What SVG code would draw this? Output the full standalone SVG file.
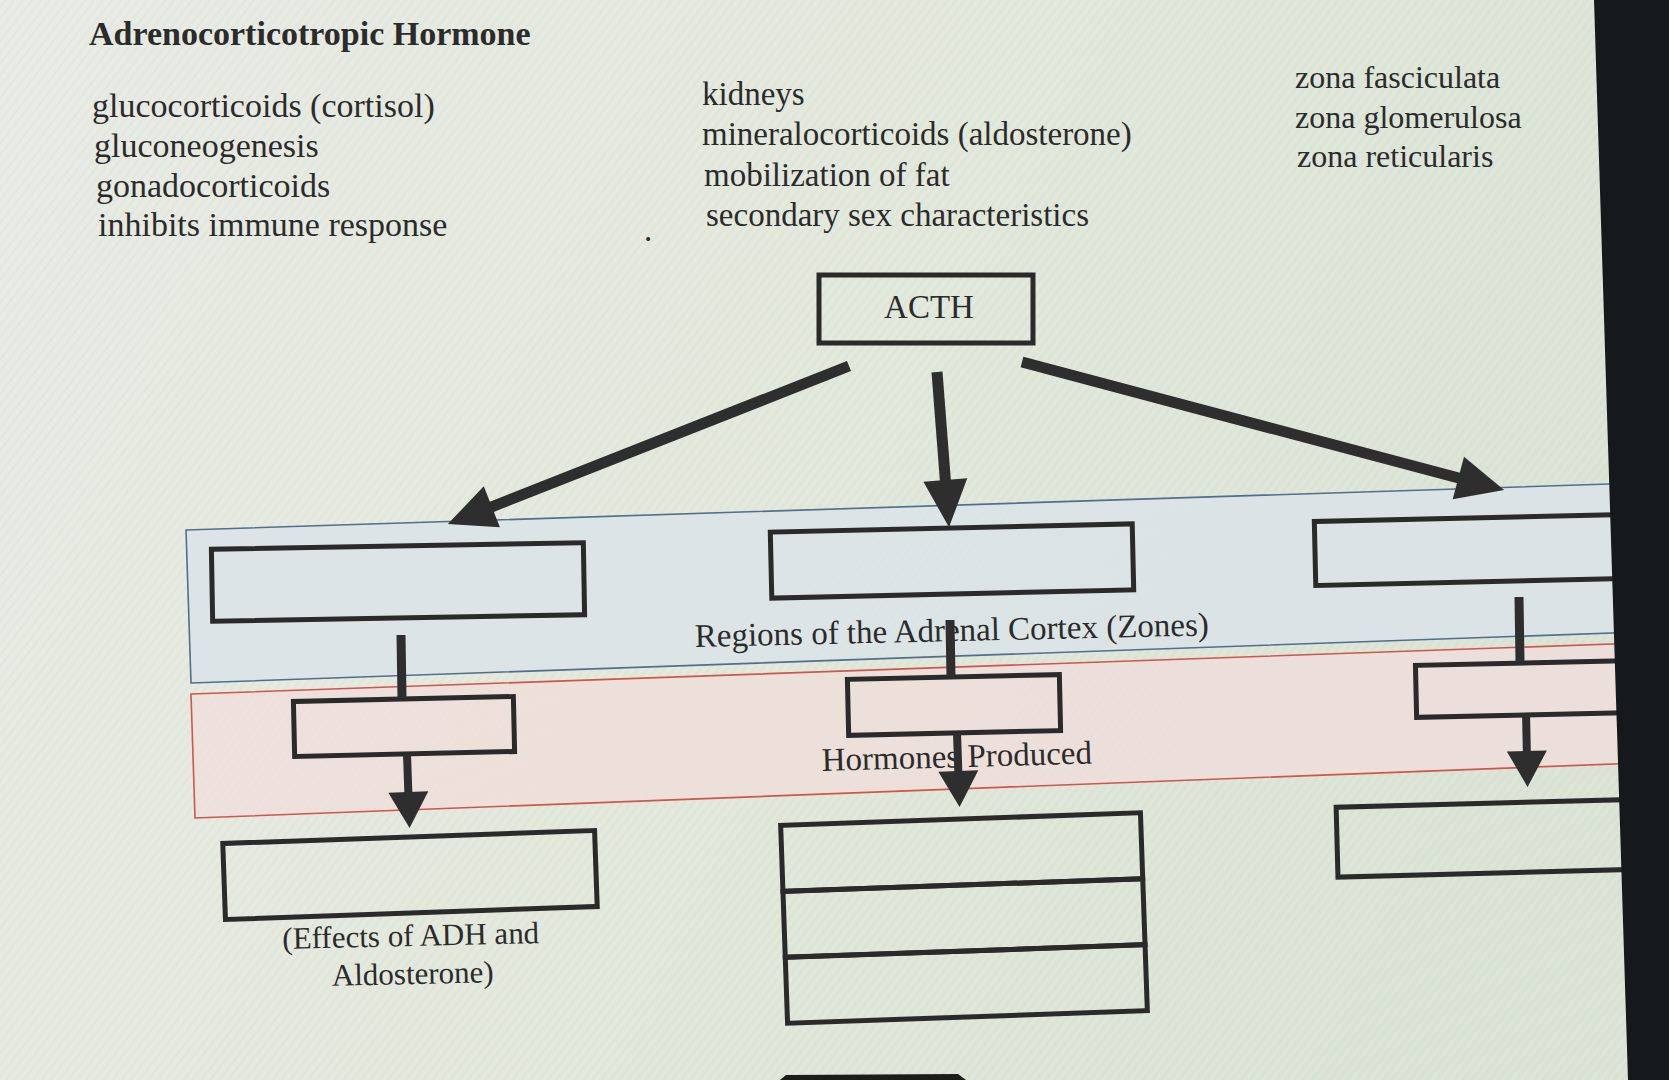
<svg xmlns="http://www.w3.org/2000/svg" width="1669" height="1080" viewBox="0 0 1669 1080">
<defs>
<linearGradient id="bg" x1="0" y1="0" x2="1" y2="0.3">
<stop offset="0" stop-color="#e9ece7"/>
<stop offset="0.5" stop-color="#e2e9dc"/>
<stop offset="1" stop-color="#d8e3d4"/>
</linearGradient>
<pattern id="moire" width="7" height="7" patternUnits="userSpaceOnUse" patternTransform="rotate(-52)">
<rect width="7" height="2.5" fill="#f1e4e4"/>
<rect y="3.5" width="7" height="2" fill="#cfe2cd"/>
</pattern>
<marker id="headL" markerUnits="strokeWidth" markerWidth="4.3" markerHeight="4" refX="1" refY="2" orient="auto" overflow="visible">
<path d="M0,0 L4.3,2 L0,4 z" fill="#2e2e2e"/>
</marker>
<marker id="headS" markerUnits="strokeWidth" markerWidth="4.5" markerHeight="5" refX="1" refY="2.5" orient="auto" overflow="visible">
<path d="M0,0 L4.5,2.5 L0,5 z" fill="#2e2e2e"/>
</marker>
</defs>
<style>
text { font-family: "Liberation Serif", "Times New Roman", serif; fill: #2b2b2b; }
.title { font-size: 34px; font-weight: bold; }
.item { font-size: 33px; }
.itemL { font-size: 34px; }
.zone { font-size: 32px; }
.lbl { font-size: 33px; }
.small { font-size: 31px; }
.box { fill: none; stroke: #2a2a2a; stroke-width: 5; }
.band-blue { fill: #dae3e7; fill-opacity: 0.85; stroke: #4f6f8c; stroke-width: 1.6; }
.band-red { fill: #efdeda; fill-opacity: 0.85; stroke: #d0554c; stroke-width: 1.6; }
.big { stroke: #2e2e2e; stroke-width: 11; fill: none; marker-end: url(#headL); }
.link { stroke: #2e2e2e; stroke-width: 9; fill: none; }
.arr { stroke: #2e2e2e; stroke-width: 8; fill: none; marker-end: url(#headS); }
</style>

<rect width="1669" height="1080" fill="url(#bg)"/>
<rect width="1669" height="1080" fill="url(#moire)" opacity="0.35"/>

<g id="title">
<text class="title" x="89" y="45">Adrenocorticotropic Hormone</text>
</g>

<g id="list-left">
<text class="itemL" x="92" y="117">glucocorticoids (cortisol)</text>
<text class="itemL" x="94" y="157">gluconeogenesis</text>
<text class="itemL" x="96" y="197">gonadocorticoids</text>
<text class="itemL" x="98" y="236">inhibits immune response</text>
</g>

<g id="dot"><text class="item" x="644" y="241">.</text></g>

<g id="list-middle">
<text class="item" x="702" y="105">kidneys</text>
<text class="item" x="702" y="145">mineralocorticoids (aldosterone)</text>
<text class="item" x="704" y="186">mobilization of fat</text>
<text class="item" x="706" y="226">secondary sex characteristics</text>
</g>

<g id="list-right">
<text class="zone" x="1295" y="88">zona fasciculata</text>
<text class="zone" x="1295" y="128">zona glomerulosa</text>
<text class="zone" x="1297" y="167">zona reticularis</text>
</g>

<g id="band-regions">
<polygon class="band-blue" points="186,530 1640,483 1640,632 191,683"/>
</g>
<g id="band-hormones">
<polygon class="band-red" points="191,694 1640,643 1640,763 195,818"/>
</g>

<g id="acth">
<rect class="box" x="819" y="275" width="214" height="68"/>
<text class="lbl" x="929" y="318" text-anchor="middle" font-size="32">ACTH</text>
</g>

<g id="zone-left"><rect class="box" x="212" y="546" width="372" height="72" transform="rotate(-1 398 582)"/></g>
<g id="zone-middle"><rect class="box" x="771" y="528" width="362" height="66" transform="rotate(-1.3 952 561)"/></g>
<g id="zone-right"><rect class="box" x="1315" y="517" width="400" height="64" transform="rotate(-1.3 1515 549)"/></g>

<g id="regions-label">
<text class="lbl" x="695" y="647" transform="rotate(-1.3 695 647)">Regions of the Adrenal Cortex (Zones)</text>
</g>

<g id="hormone-left"><rect class="box" x="294" y="699" width="220" height="55" transform="rotate(-1.3 404 726)"/></g>
<g id="hormone-middle"><rect class="box" x="848" y="677" width="212" height="56" transform="rotate(-1.3 954 705)"/></g>
<g id="hormone-right"><rect class="box" x="1416" y="662" width="300" height="52" transform="rotate(-1.3 1566 688)"/></g>

<g id="hormones-label">
<text class="lbl" x="822" y="771" transform="rotate(-1.6 822 771)">Hormones Produced</text>
</g>

<g id="effect-left">
<rect class="box" x="224" y="837" width="372" height="76" transform="rotate(-2 410 875)"/>
<text class="small" x="411" y="946" text-anchor="middle" transform="rotate(-1.3 411 946)">(Effects of ADH and</text>
<text class="small" x="413" y="984" text-anchor="middle" transform="rotate(-1.3 413 984)">Aldosterone)</text>
</g>
<g id="effect-middle" transform="rotate(-2 964 918)">
<rect class="box" x="784" y="819" width="360" height="66"/>
<rect class="box" x="784" y="885" width="360" height="66"/>
<rect class="box" x="784" y="951" width="360" height="66"/>
</g>
<g id="effect-right"><rect class="box" x="1337" y="803" width="320" height="70" transform="rotate(-1.5 1497 838)"/></g>

<g id="connectors">
<line class="big" x1="849" y1="366" x2="481.6" y2="510.8"/>
<line class="big" x1="937" y1="372" x2="946.2" y2="491"/>
<line class="big" x1="1022" y1="362" x2="1469" y2="480.8"/>
<line class="link" x1="401" y1="635" x2="402" y2="698"/>
<line class="link" x1="950" y1="620" x2="951" y2="678"/>
<line class="link" x1="1519" y1="597" x2="1520" y2="662"/>
<line class="arr" x1="407" y1="754" x2="408.6" y2="800"/>
<line class="arr" x1="957" y1="733" x2="958.6" y2="779"/>
<line class="arr" x1="1526" y1="713" x2="1527" y2="759"/>
</g>

<g id="bezel">
<polygon points="1594,0 1669,0 1669,1080 1628,1080" fill="#16191b"/>
<path d="M780,1080 L786,1075 L958,1074 L966,1080 z" fill="#1c1c1c"/>
</g>
</svg>
